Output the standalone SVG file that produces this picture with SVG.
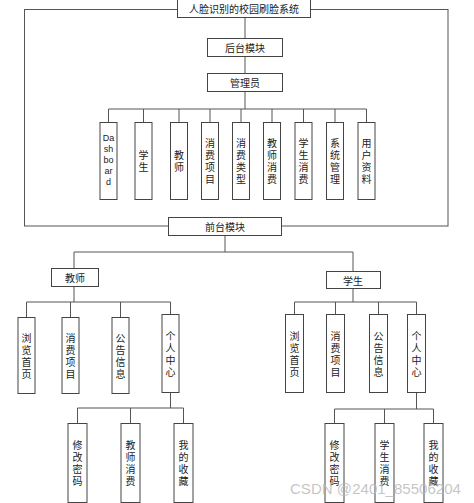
<svg xmlns="http://www.w3.org/2000/svg" width="474" height="503" viewBox="0 0 474 503">
<style>
.b{fill:#fff;stroke:#444;stroke-width:1}
.c{fill:none;stroke:#555;stroke-width:1}
text{font-family:"Noto Sans CJK SC","Liberation Sans",sans-serif;font-size:10px;fill:#222;text-anchor:middle;dominant-baseline:central}
.en{font-family:"Liberation Sans",sans-serif;font-size:9px}
.wm{font-family:"Liberation Sans",sans-serif;font-size:15px;fill:#bbb;fill-opacity:0.85;text-anchor:start;dominant-baseline:alphabetic}
</style>
<rect x="24.5" y="9.5" width="423.5" height="216.5" class="c"/>
<g id="connectors" class="c">
<path d="M245 17.5V38M245 56V73M245 91V109"/>
<path d="M108.5 109H366.5M108.5 109V122M143.5 109V122M179 109V122M210 109V122M241 109V122M272 109V122M303.5 109V122M335 109V122M366.5 109V122"/>
<path d="M225 235V252M74 252H353M74 252V268M353 252V271"/>
<path d="M74 286V302M26.5 302H170.5M26.5 302V317M70.5 302V317M120.5 302V317M170.5 302V314"/>
<path d="M170.5 392V408M77.5 408H183.5M77.5 408V423M130.5 408V423M183.5 408V423"/>
<path d="M353 288V302M294.5 302H416.5M294.5 302V314M335.5 302V314M378.5 302V314M416.5 302V314"/>
<path d="M416.5 392V409M334.5 409H433.5M334.5 409V423M384.5 409V423M433.5 409V423"/>
</g>
<g id="root"><rect class="b" x="177.5" y="-0.5" width="133" height="18"/><text x="244" y="8.5">人脸识别的校园刷脸系统</text></g>
<g id="backend"><rect class="b" x="207.5" y="38.5" width="75" height="18"/><text x="245" y="47.5">后台模块</text></g>
<g id="admin"><rect class="b" x="207.5" y="73.5" width="75" height="18"/><text x="245" y="82.5">管理员</text></g>
<g id="dashboard"><rect class="b" x="100" y="122.5" width="17" height="77"/><text class="en"><tspan x="108.5" y="138">Da</tspan><tspan x="108.5" y="149">sh</tspan><tspan x="108.5" y="160">bo</tspan><tspan x="108.5" y="171">ar</tspan><tspan x="108.5" y="182">d</tspan></text></g>
<g id="a-student"><rect class="b" x="135" y="122.5" width="17" height="77"/><text><tspan x="143.5" y="154">学</tspan><tspan x="143.5" y="166">生</tspan></text></g>
<g id="a-teacher"><rect class="b" x="170.5" y="122.5" width="17" height="77"/><text><tspan x="179" y="154">教</tspan><tspan x="179" y="166">师</tspan></text></g>
<g id="a-item"><rect class="b" x="201.5" y="122.5" width="17" height="77"/><text><tspan x="210" y="142">消</tspan><tspan x="210" y="154">费</tspan><tspan x="210" y="166">项</tspan><tspan x="210" y="178">目</tspan></text></g>
<g id="a-type"><rect class="b" x="232.5" y="122.5" width="17" height="77"/><text><tspan x="241" y="142">消</tspan><tspan x="241" y="154">费</tspan><tspan x="241" y="166">类</tspan><tspan x="241" y="178">型</tspan></text></g>
<g id="a-tcons"><rect class="b" x="263.5" y="122.5" width="17" height="77"/><text><tspan x="272" y="142">教</tspan><tspan x="272" y="154">师</tspan><tspan x="272" y="166">消</tspan><tspan x="272" y="178">费</tspan></text></g>
<g id="a-scons"><rect class="b" x="295" y="122.5" width="17" height="77"/><text><tspan x="303.5" y="142">学</tspan><tspan x="303.5" y="154">生</tspan><tspan x="303.5" y="166">消</tspan><tspan x="303.5" y="178">费</tspan></text></g>
<g id="a-sys"><rect class="b" x="326.5" y="122.5" width="17" height="77"/><text><tspan x="335" y="142">系</tspan><tspan x="335" y="154">统</tspan><tspan x="335" y="166">管</tspan><tspan x="335" y="178">理</tspan></text></g>
<g id="a-user"><rect class="b" x="358" y="122.5" width="17" height="77"/><text><tspan x="366.5" y="142">用</tspan><tspan x="366.5" y="154">户</tspan><tspan x="366.5" y="166">资</tspan><tspan x="366.5" y="178">料</tspan></text></g>
<g id="frontend"><rect class="b" x="168.5" y="217.5" width="113" height="18"/><text x="225" y="226.5">前台模块</text></g>
<g id="f-teacher"><rect class="b" x="51.5" y="268.5" width="47" height="18"/><text x="75" y="277.5">教师</text></g>
<g id="f-student"><rect class="b" x="326.5" y="271.5" width="54" height="17"/><text x="353" y="280">学生</text></g>
<g id="t-home"><rect class="b" x="18" y="317.5" width="17" height="76"/><text><tspan x="26.5" y="337">浏</tspan><tspan x="26.5" y="349">览</tspan><tspan x="26.5" y="361">首</tspan><tspan x="26.5" y="373">页</tspan></text></g>
<g id="t-item"><rect class="b" x="62" y="317.5" width="17" height="76"/><text><tspan x="70.5" y="337">消</tspan><tspan x="70.5" y="349">费</tspan><tspan x="70.5" y="361">项</tspan><tspan x="70.5" y="373">目</tspan></text></g>
<g id="t-notice"><rect class="b" x="112" y="317.5" width="17" height="76"/><text><tspan x="120.5" y="337">公</tspan><tspan x="120.5" y="349">告</tspan><tspan x="120.5" y="361">信</tspan><tspan x="120.5" y="373">息</tspan></text></g>
<g id="t-center"><rect class="b" x="162" y="314.5" width="17" height="78"/><text><tspan x="170.5" y="335">个</tspan><tspan x="170.5" y="347">人</tspan><tspan x="170.5" y="359">中</tspan><tspan x="170.5" y="371">心</tspan></text></g>
<g id="t-pwd"><rect class="b" x="68" y="423.5" width="19" height="79"/><text><tspan x="77.5" y="444">修</tspan><tspan x="77.5" y="456">改</tspan><tspan x="77.5" y="468">密</tspan><tspan x="77.5" y="480">码</tspan></text></g>
<g id="t-cons"><rect class="b" x="121" y="423.5" width="19" height="79"/><text><tspan x="130.5" y="444">教</tspan><tspan x="130.5" y="456">师</tspan><tspan x="130.5" y="468">消</tspan><tspan x="130.5" y="480">费</tspan></text></g>
<g id="t-fav"><rect class="b" x="174" y="423.5" width="19" height="79"/><text><tspan x="183.5" y="444">我</tspan><tspan x="183.5" y="456">的</tspan><tspan x="183.5" y="468">收</tspan><tspan x="183.5" y="480">藏</tspan></text></g>
<g id="s-home"><rect class="b" x="285.5" y="314.5" width="18" height="78"/><text><tspan x="294.5" y="335">浏</tspan><tspan x="294.5" y="347">览</tspan><tspan x="294.5" y="359">首</tspan><tspan x="294.5" y="371">页</tspan></text></g>
<g id="s-item"><rect class="b" x="326.5" y="314.5" width="18" height="78"/><text><tspan x="335.5" y="335">消</tspan><tspan x="335.5" y="347">费</tspan><tspan x="335.5" y="359">项</tspan><tspan x="335.5" y="371">目</tspan></text></g>
<g id="s-notice"><rect class="b" x="369.5" y="314.5" width="18" height="78"/><text><tspan x="378.5" y="335">公</tspan><tspan x="378.5" y="347">告</tspan><tspan x="378.5" y="359">信</tspan><tspan x="378.5" y="371">息</tspan></text></g>
<g id="s-center"><rect class="b" x="407.5" y="314.5" width="18" height="78"/><text><tspan x="416.5" y="335">个</tspan><tspan x="416.5" y="347">人</tspan><tspan x="416.5" y="359">中</tspan><tspan x="416.5" y="371">心</tspan></text></g>
<g id="s-pwd"><rect class="b" x="325" y="423.5" width="19" height="79"/><text><tspan x="334.5" y="444">修</tspan><tspan x="334.5" y="456">改</tspan><tspan x="334.5" y="468">密</tspan><tspan x="334.5" y="480">码</tspan></text></g>
<g id="s-cons"><rect class="b" x="375" y="423.5" width="19" height="79"/><text><tspan x="384.5" y="444">学</tspan><tspan x="384.5" y="456">生</tspan><tspan x="384.5" y="468">消</tspan><tspan x="384.5" y="480">费</tspan></text></g>
<g id="s-fav"><rect class="b" x="424" y="423.5" width="19" height="79"/><text><tspan x="433.5" y="444">我</tspan><tspan x="433.5" y="456">的</tspan><tspan x="433.5" y="468">收</tspan><tspan x="433.5" y="480">藏</tspan></text></g>
<text class="wm" x="290" y="494" textLength="171" lengthAdjust="spacingAndGlyphs">CSDN @2401_85506204</text>
</svg>
